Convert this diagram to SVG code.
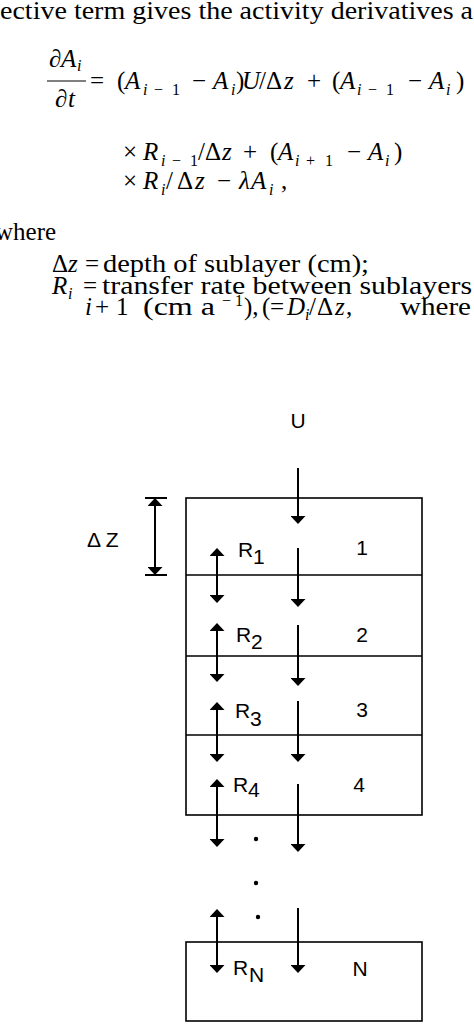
<svg xmlns="http://www.w3.org/2000/svg" width="474" height="1035" viewBox="0 0 474 1035">
<style>
.t{font-family:"Liberation Serif","Times New Roman",serif;font-size:25px;fill:#000}
.it{font-style:italic}
.s{font-size:16px}
.d{font-family:"Liberation Sans",Arial,sans-serif;font-size:21px;fill:#000}
.box{fill:none;stroke:#000;stroke-width:1.6}
.ar{stroke:#000;stroke-width:2;fill:none}
</style>
<defs>
<marker id="ah" viewBox="0 0 8 15" refX="6" refY="7.5" markerWidth="8" markerHeight="15" markerUnits="userSpaceOnUse" orient="auto-start-reverse">
<path d="M0,0 L8,7.5 L0,15 z" fill="#000"/>
</marker>
</defs>
<rect width="474" height="1035" fill="#fff"/>

<g id="text">
<text class="t" x="0" y="19" textLength="473" lengthAdjust="spacingAndGlyphs">ective term gives the activity derivatives a</text>

<text class="t"><tspan x="49" y="67">∂</tspan><tspan class="it" x="61" y="67">A</tspan><tspan class="it s" x="77" y="71">i</tspan></text>
<line x1="47" y1="81" x2="86" y2="81" stroke="#000" stroke-width="1.2"/>
<text class="t"><tspan x="55" y="107">∂</tspan><tspan class="it" x="68" y="107">t</tspan></text>

<text class="t"><tspan x="90" y="89">=</tspan><tspan x="117" y="89">(</tspan><tspan class="it" x="125" y="89">A</tspan><tspan class="s it" x="143" y="95">i</tspan><tspan class="s" x="154" y="95">−</tspan><tspan class="s" x="172" y="95">1</tspan><tspan x="192" y="89">−</tspan><tspan class="it" x="213" y="89">A</tspan><tspan class="s it" x="231" y="95">i</tspan><tspan x="236" y="89">)</tspan><tspan class="it" x="242" y="89">U</tspan><tspan x="259" y="89">/</tspan><tspan x="266" y="89">Δ</tspan><tspan class="it" x="284" y="89">z</tspan><tspan x="307" y="89">+</tspan><tspan x="332" y="89">(</tspan><tspan class="it" x="340" y="89">A</tspan><tspan class="s it" x="357" y="95">i</tspan><tspan class="s" x="368" y="95">−</tspan><tspan class="s" x="386" y="95">1</tspan><tspan x="408" y="89">−</tspan><tspan class="it" x="429" y="89">A</tspan><tspan class="s it" x="446" y="95">i</tspan><tspan x="456" y="89">)</tspan></text>

<text class="t"><tspan x="123" y="160">×</tspan><tspan class="it" x="143" y="160">R</tspan><tspan class="s it" x="161" y="166">i</tspan><tspan class="s" x="172" y="166">−</tspan><tspan class="s" x="190" y="166">1</tspan><tspan x="198" y="160">/</tspan><tspan x="205" y="160">Δ</tspan><tspan class="it" x="222" y="160">z</tspan><tspan x="243" y="160">+</tspan><tspan x="270" y="160">(</tspan><tspan class="it" x="278" y="160">A</tspan><tspan class="s it" x="295" y="166">i</tspan><tspan class="s" x="306" y="166">+</tspan><tspan class="s" x="325" y="166">1</tspan><tspan x="347" y="160">−</tspan><tspan class="it" x="368" y="160">A</tspan><tspan class="s it" x="385" y="166">i</tspan><tspan x="394" y="160">)</tspan></text>

<text class="t"><tspan x="123" y="189">×</tspan><tspan class="it" x="143" y="189">R</tspan><tspan class="s it" x="161" y="195">i</tspan><tspan x="166" y="189">/</tspan><tspan x="177" y="189">Δ</tspan><tspan class="it" x="195" y="189">z</tspan><tspan x="217" y="189">−</tspan><tspan class="it" x="239" y="189">λ</tspan><tspan class="it" x="251" y="189">A</tspan><tspan class="s it" x="269" y="195">i</tspan><tspan x="281" y="189">,</tspan></text>

<text class="t" x="-5" y="240">where</text>

<text class="t"><tspan x="52" y="272">Δ</tspan><tspan class="it" x="68" y="272">z</tspan><tspan x="85" y="272">=</tspan></text>
<text class="t" x="103" y="272" textLength="266" lengthAdjust="spacingAndGlyphs">depth of sublayer (cm);</text>

<text class="t"><tspan class="it" x="52" y="294">R</tspan><tspan class="s it" x="68" y="299">i</tspan><tspan x="83" y="294">=</tspan></text>
<text class="t" x="102" y="294" textLength="370" lengthAdjust="spacingAndGlyphs">transfer rate between sublayers</text>

<text class="t"><tspan class="it" x="85" y="315">i</tspan><tspan x="95" y="315">+</tspan><tspan x="116" y="315">1</tspan></text>
<text class="t" x="143" y="315" textLength="72" lengthAdjust="spacingAndGlyphs">(cm a</text>
<text class="t"><tspan class="s" x="222" y="306">−</tspan><tspan class="s" x="235" y="306">1</tspan><tspan x="244" y="315">),</tspan><tspan x="262" y="315">(</tspan><tspan x="270" y="315">=</tspan><tspan class="it" x="287" y="315">D</tspan><tspan class="s it" x="305" y="320">i</tspan><tspan x="309" y="315">/</tspan><tspan x="317" y="315">Δ</tspan><tspan class="it" x="335" y="315">z</tspan><tspan x="346" y="315">,</tspan></text>
<text class="t" x="400" y="315" textLength="71" lengthAdjust="spacingAndGlyphs">where</text>
</g>

<g id="layers">
<rect class="box" x="186" y="498" width="236" height="317"/>
<line class="box" x1="186" y1="575" x2="422" y2="575"/>
<line class="box" x1="186" y1="656" x2="422" y2="656"/>
<line class="box" x1="186" y1="735" x2="422" y2="735"/>
<rect class="box" x="186" y="942" width="236" height="79"/>
</g>

<g id="labels">
<text class="d" x="298" y="428" text-anchor="middle">U</text>
<text class="d" x="87" y="547">Δ Z</text>
<text class="d" x="362" y="555" text-anchor="middle">1</text>
<text class="d" x="362" y="642" text-anchor="middle">2</text>
<text class="d" x="362" y="717" text-anchor="middle">3</text>
<text class="d" x="359" y="792" text-anchor="middle">4</text>
<text class="d" x="360" y="976" text-anchor="middle">N</text>
<text class="d"><tspan x="238" y="557">R</tspan><tspan x="253" y="564">1</tspan></text>
<text class="d"><tspan x="236" y="642">R</tspan><tspan x="251" y="649">2</tspan></text>
<text class="d"><tspan x="235" y="718">R</tspan><tspan x="250" y="726">3</tspan></text>
<text class="d"><tspan x="233" y="792">R</tspan><tspan x="248" y="797">4</tspan></text>
<text class="d"><tspan x="233" y="975">R</tspan><tspan x="249" y="982">N</tspan></text>
<circle cx="256" cy="839" r="2.2" fill="#000"/>
<circle cx="256" cy="883" r="2.2" fill="#000"/>
<circle cx="258" cy="917" r="2.2" fill="#000"/>
</g>

<g id="connectors">
<line class="ar" x1="298" y1="468" x2="298" y2="522" marker-end="url(#ah)"/>
<line class="ar" x1="298" y1="548" x2="298" y2="605" marker-end="url(#ah)"/>
<line class="ar" x1="298" y1="625" x2="298" y2="684" marker-end="url(#ah)"/>
<line class="ar" x1="298" y1="701" x2="298" y2="760" marker-end="url(#ah)"/>
<line class="ar" x1="298" y1="784" x2="298" y2="850" marker-end="url(#ah)"/>
<line class="ar" x1="298" y1="908" x2="298" y2="971" marker-end="url(#ah)"/>
<line class="ar" x1="217" y1="550" x2="217" y2="601" marker-start="url(#ah)" marker-end="url(#ah)"/>
<line class="ar" x1="217" y1="625" x2="217" y2="680" marker-start="url(#ah)" marker-end="url(#ah)"/>
<line class="ar" x1="217" y1="704" x2="217" y2="760" marker-start="url(#ah)" marker-end="url(#ah)"/>
<line class="ar" x1="217" y1="781" x2="217" y2="845" marker-start="url(#ah)" marker-end="url(#ah)"/>
<line class="ar" x1="217" y1="911" x2="217" y2="971" marker-start="url(#ah)" marker-end="url(#ah)"/>
<line class="ar" x1="155" y1="500" x2="155" y2="573" marker-start="url(#ah)" marker-end="url(#ah)" stroke-width="1.5"/>
<line class="ar" x1="145" y1="498" x2="167" y2="498" stroke-width="1.5"/>
<line class="ar" x1="145" y1="575" x2="167" y2="575" stroke-width="1.5"/>
</g>
</svg>
